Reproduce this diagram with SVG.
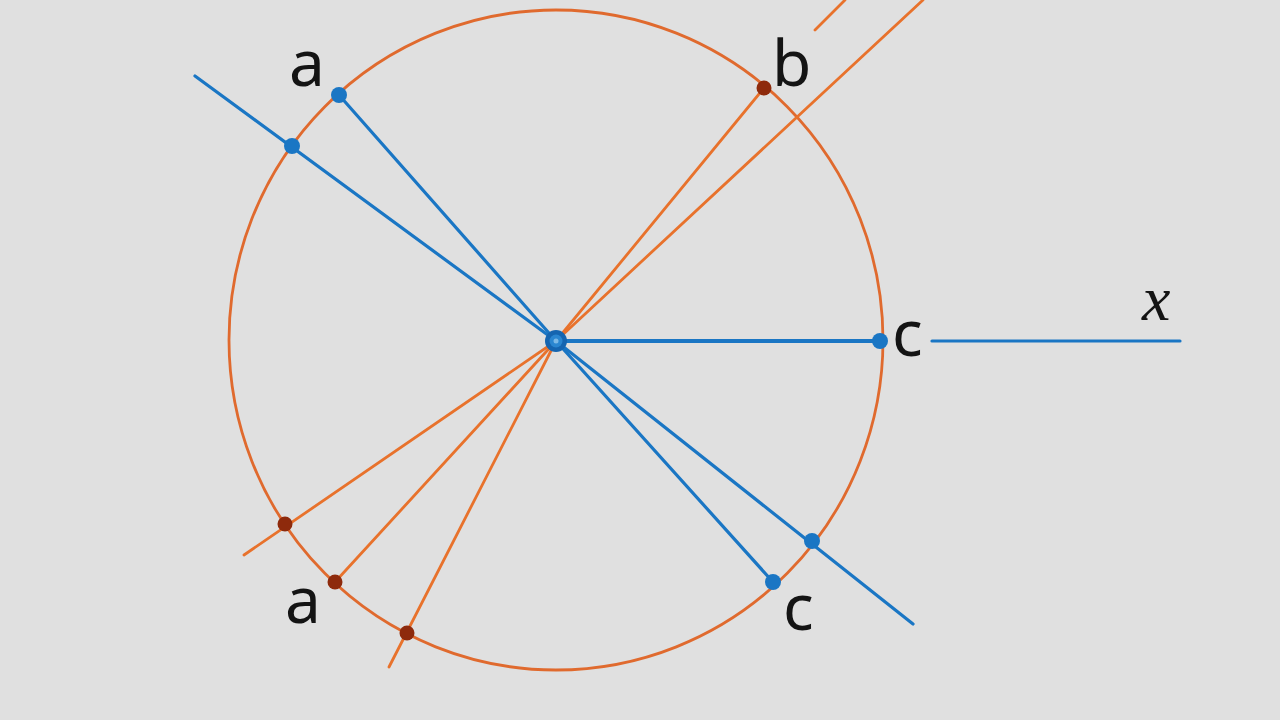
<svg xmlns="http://www.w3.org/2000/svg" width="1280" height="720" viewBox="0 0 1280 720">
<style>
.bl{stroke:#1a76c4;stroke-width:3.2;fill:none;stroke-linecap:round}
.or{stroke:#e8722c;stroke-width:2.8;fill:none;stroke-linecap:round}
.bd{fill:#1a76c4}
.rd{fill:#8e2a0c}
.lb{font-family:"Noto Sans","Liberation Sans",Arial,sans-serif;font-size:64px;fill:#141414}
</style>
<rect width="1280" height="720" fill="#e0e0e0"/>
<g id="circle">
<ellipse cx="556" cy="340" rx="327" ry="330" fill="none" stroke="#e06a2e" stroke-width="2.8"/>
</g>
<g id="connectors">
<line class="or" x1="556" y1="341" x2="764" y2="88"/>
<line class="or" x1="556" y1="341" x2="923" y2="0"/>
<line class="or" x1="815" y1="30" x2="845" y2="0"/>
<line class="or" x1="556" y1="341" x2="244" y2="555"/>
<line class="or" x1="556" y1="341" x2="335" y2="582"/>
<line class="or" x1="556" y1="341" x2="389" y2="667"/>
<line class="bl" x1="195" y1="76" x2="556" y2="341"/>
<line class="bl" x1="556" y1="341" x2="913" y2="624"/>
<line class="bl" x1="339" y1="95" x2="556" y2="341"/>
<line class="bl" x1="556" y1="341" x2="773" y2="582"/>
<line class="bl" x1="556" y1="341" x2="880" y2="341" style="stroke-width:4"/>
<line class="bl" x1="932" y1="341" x2="1180" y2="341"/>
</g>
<g id="point-a-top"><circle class="bd" cx="339" cy="95" r="8"/><text class="lb" x="289" y="86">a</text></g>
<g id="point-a2"><circle class="bd" cx="292" cy="146" r="8"/></g>
<g id="point-b"><circle class="rd" cx="764" cy="88" r="7.5"/><text class="lb" x="772" y="86">b</text></g>
<g id="point-c-right"><circle class="bd" cx="880" cy="341" r="8"/><text class="lb" x="892" y="356">c</text></g>
<g id="point-c-bottom"><circle class="bd" cx="773" cy="582" r="8"/><text class="lb" x="783" y="630">c</text></g>
<g id="point-c2"><circle class="bd" cx="812" cy="541" r="8"/></g>
<g id="point-a-bottom"><circle class="rd" cx="335" cy="582" r="7.5"/><text class="lb" x="285" y="623">a</text></g>
<g id="point-r1"><circle class="rd" cx="285" cy="524" r="7.5"/></g>
<g id="point-r2"><circle class="rd" cx="407" cy="633" r="7.5"/></g>
<g id="axis-label"><text x="1142" y="320" style="font-family:'Liberation Serif','Times New Roman',serif;font-style:italic;font-size:64px;fill:#141414">x</text></g>
<g id="center">
<circle cx="556" cy="341" r="11" fill="#1565b0"/>
<circle cx="556" cy="341" r="6.5" fill="#2a86d0"/>
<circle cx="556" cy="341" r="2.5" fill="#7ab8e6"/>
</g>
</svg>
